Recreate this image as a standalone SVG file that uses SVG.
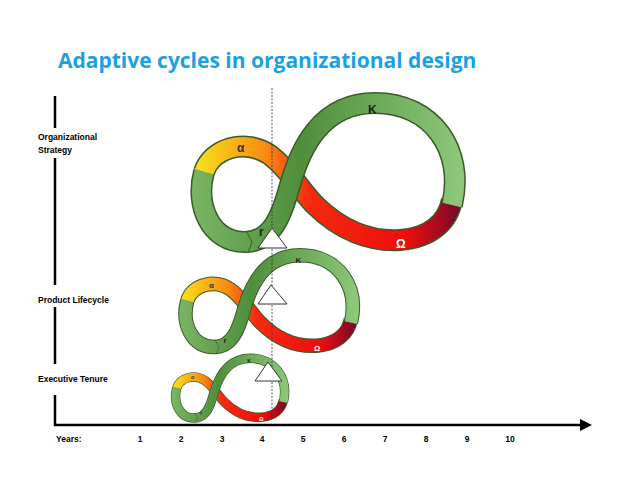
<svg xmlns="http://www.w3.org/2000/svg" xmlns:xlink="http://www.w3.org/1999/xlink" width="638" height="493" viewBox="0 0 638 493">
<style>
.t{font-family:"Liberation Sans",Arial,sans-serif;font-weight:bold;font-size:8.5px;fill:#000}
.g{font-family:"Liberation Sans",Arial,sans-serif;font-weight:bold;font-size:12px}
.edge{fill:none;stroke:#3a5a2a;stroke-width:22}
.tri{fill:#fff;stroke:#333;stroke-width:1}
</style>
<defs>
<linearGradient id="rg" gradientUnits="userSpaceOnUse" x1="200" y1="0" x2="458" y2="0">
<stop offset="0" stop-color="#f7dc1a"/><stop offset="0.25" stop-color="#fb8c12"/><stop offset="0.42" stop-color="#f52a10"/><stop offset="0.8" stop-color="#ee0d0d"/><stop offset="1" stop-color="#7a0a2a"/>
</linearGradient>
<linearGradient id="gg" gradientUnits="userSpaceOnUse" x1="195" y1="0" x2="460" y2="0">
<stop offset="0" stop-color="#78b464"/><stop offset="0.4" stop-color="#4f8e3a"/><stop offset="1" stop-color="#8cc77a"/>
</linearGradient>
<g id="eight">
<path class="edge" d="M204,172 C212,148 245,138 270,155 C290,170 300,190 315,205 C340,230 370,242 400,240 C430,238 448,222 452,200"/>
<path d="M204,172 C212,148 245,138 270,155 C290,170 300,190 315,205 C340,230 370,242 400,240 C430,238 448,222 452,200" fill="none" stroke="url(#rg)" stroke-width="19"/>
<path class="edge" d="M452,205 C465,150 432,103 375,103 C320,103 300,150 290,185 C282,215 272,242 245,242 C210,242 195,205 204,172"/>
<path d="M452,205 C465,150 432,103 375,103 C320,103 300,150 290,185 C282,215 272,242 245,242 C210,242 195,205 204,172" fill="none" stroke="url(#gg)" stroke-width="19"/>
<path d="M246,231 L252,242 L248,253" fill="none" stroke="#3a5a2a" stroke-width="1"/>
<text class="g" x="237" y="152" fill="#333">α</text>
<text class="g" x="368" y="114" fill="#222">K</text>
<text class="g" x="396" y="248" fill="#fff">Ω</text>
<text class="g" x="259" y="236" fill="#222">r</text>
</g>
</defs>
<text x="58" y="68" font-family="'Open Sans','Liberation Sans',sans-serif" font-weight="bold" font-size="21" fill="#1ba1e2">Adaptive cycles in organizational design</text>
<g id="axes" stroke="#000" stroke-width="2.5">
<line x1="55" y1="96" x2="55" y2="128"/>
<line x1="55" y1="158" x2="55" y2="285"/>
<line x1="55" y1="307" x2="55" y2="364"/>
<line x1="55" y1="395" x2="55" y2="426"/>
<line x1="54" y1="425" x2="584" y2="425"/>
<path d="M592,425 L580,419 L580,431 Z" fill="#000" stroke="none"/>
</g>
<g id="labels">
<text class="t" x="38" y="140">Organizational</text>
<text class="t" x="38" y="153">Strategy</text>
<text class="t" x="38" y="303">Product Lifecycle</text>
<text class="t" x="38" y="382">Executive Tenure</text>
<text class="t" x="56" y="442">Years:</text>
<text class="t" x="140" y="442" text-anchor="middle">1</text>
<text class="t" x="181" y="442" text-anchor="middle">2</text>
<text class="t" x="222" y="442" text-anchor="middle">3</text>
<text class="t" x="262" y="442" text-anchor="middle">4</text>
<text class="t" x="303" y="442" text-anchor="middle">5</text>
<text class="t" x="344" y="442" text-anchor="middle">6</text>
<text class="t" x="385" y="442" text-anchor="middle">7</text>
<text class="t" x="426" y="442" text-anchor="middle">8</text>
<text class="t" x="467" y="442" text-anchor="middle">9</text>
<text class="t" x="510" y="442" text-anchor="middle">10</text>
</g>
<g id="strategy"><use xlink:href="#eight"/></g>
<g id="product" transform="translate(52.6,187.3) scale(0.66)"><use xlink:href="#eight"/></g>
<g id="tenure" transform="translate(89,314) scale(0.43)"><use xlink:href="#eight"/></g>
<g id="connectors">
<line x1="272" y1="88" x2="272" y2="418" stroke="#333" stroke-width="0.8" stroke-dasharray="2,1.5"/>
<polygon class="tri" points="272,228 258,248 287,248"/>
<polygon class="tri" points="271,285 258,304 287,304"/>
<polygon class="tri" points="268,362 255,381 282,381"/>
</g>
</svg>
